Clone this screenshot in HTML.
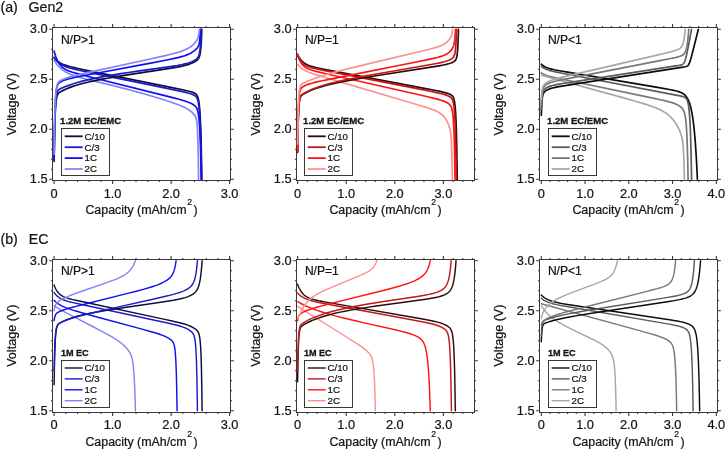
<!DOCTYPE html>
<html><head><meta charset="utf-8"><style>
html,body{margin:0;padding:0;background:#fff;}
svg{display:block;will-change:transform;}
text{font-family:"Liberation Sans", sans-serif;fill:#141414;stroke:#141414;stroke-width:0.22px;}
.t{font-size:12.8px;}
.ax{font-size:12.4px;}
.vx{font-size:12.6px;}
.h{font-size:14.2px;}
.b{font-size:9.4px;font-weight:bold;stroke-width:0.3px;}
.l{font-size:9.7px;}
.np{font-size:12.1px;}
</style></head><body>
<svg width="725" height="449" viewBox="0 0 725 449">
<rect width="725" height="449" fill="#fff"/>
<rect x="52.5" y="27.5" width="178" height="153" fill="none" stroke="#383838" stroke-width="1.0"/>
<path d="M52.5 179.3h-3.4M230.5 179.3h3.4M52.5 169.3h-1.6M230.5 169.3h1.6M52.5 159.3h-1.6M230.5 159.3h1.6M52.5 149.3h-1.6M230.5 149.3h1.6M52.5 139.3h-1.6M230.5 139.3h1.6M52.5 129.3h-3.4M230.5 129.3h3.4M52.5 119.3h-1.6M230.5 119.3h1.6M52.5 109.3h-1.6M230.5 109.3h1.6M52.5 99.3h-1.6M230.5 99.3h1.6M52.5 89.3h-1.6M230.5 89.3h1.6M52.5 79.3h-3.4M230.5 79.3h3.4M52.5 69.3h-1.6M230.5 69.3h1.6M52.5 59.3h-1.6M230.5 59.3h1.6M52.5 49.3h-1.6M230.5 49.3h1.6M52.5 39.3h-1.6M230.5 39.3h1.6M52.5 29.3h-3.4M230.5 29.3h3.4M54.1 180.5v3.4M54.1 27.5v-3.4M65.8 180.5v1.6M65.8 27.5v-1.6M77.5 180.5v1.6M77.5 27.5v-1.6M89.2 180.5v1.6M89.2 27.5v-1.6M100.9 180.5v1.6M100.9 27.5v-1.6M112.6 180.5v3.4M112.6 27.5v-3.4M124.3 180.5v1.6M124.3 27.5v-1.6M136 180.5v1.6M136 27.5v-1.6M147.7 180.5v1.6M147.7 27.5v-1.6M159.4 180.5v1.6M159.4 27.5v-1.6M171.1 180.5v3.4M171.1 27.5v-3.4M182.8 180.5v1.6M182.8 27.5v-1.6M194.5 180.5v1.6M194.5 27.5v-1.6M206.2 180.5v1.6M206.2 27.5v-1.6M217.9 180.5v1.6M217.9 27.5v-1.6M229.6 180.5v3.4M229.6 27.5v-3.4" stroke="#383838" stroke-width="1.1" fill="none"/>
<text x="47.6" y="183.2" text-anchor="end" class="t">1.5</text>
<text x="47.6" y="133.2" text-anchor="end" class="t">2.0</text>
<text x="47.6" y="83.2" text-anchor="end" class="t">2.5</text>
<text x="47.6" y="33.2" text-anchor="end" class="t">3.0</text>
<text x="54.1" y="197.6" text-anchor="middle" class="t">0</text>
<text x="112.6" y="197.6" text-anchor="middle" class="t">1.0</text>
<text x="171.1" y="197.6" text-anchor="middle" class="t">2.0</text>
<text x="229.6" y="197.6" text-anchor="middle" class="t">3.0</text>
<text x="141.5" y="214" text-anchor="middle" class="t ax">Capacity (mAh/cm<tspan dx="0.6" dy="-8.6" font-size="8.6">2</tspan><tspan dx="1.4" dy="8.6">)</tspan></text>
<text transform="translate(15.7 104.3) rotate(-90)" text-anchor="middle" class="t vx">Voltage (V)</text>
<text x="60.9" y="43.7" class="np">N/P&gt;1</text>
<path d="M54.1 57.8 55.44 59.3 56.23 60.06 57.03 60.75 57.95 61.47 58.77 62.04 59.67 62.61 60.64 63.16 61.69 63.69 62.81 64.2 65.28 65.17 68.03 66.05 71.44 66.99 74.32 67.69 77.85 68.49 87.64 70.55 169.55 87.09 182.64 89.79 187.89 90.99 189.9 91.51 191.86 92.08 193.3 92.58 194.24 92.98 195.16 93.5 195.62 93.82 196.07 94.21 196.52 94.71 196.97 95.34 197.41 96.16 197.85 97.27 198.28 98.76 198.71 100.81 199.14 103.65 199.56 107.58 199.98 113.05 200.4 120.69 200.81 131.35 201.22 146.2 201.62 166.88 201.8 179.3" fill="none" stroke="#0e0e3a" stroke-width="1.7" stroke-linejoin="round" stroke-linecap="round"/>
<path d="M54.1 57.3 54.83 58.39 55.56 59.37 56.38 60.35 57.2 61.22 58.14 62.12 58.98 62.82 59.89 63.52 60.88 64.18 62.8 65.28 63.99 65.85 65.26 66.4 68 67.41 71.41 68.44 74.29 69.19 77.8 70.02 87.58 72.14 169.34 88.94 182.41 91.7 187.65 92.95 189.66 93.51 191.13 93.96 192.58 94.48 193.52 94.89 194.45 95.38 195.37 96.03 195.82 96.45 196.27 96.98 196.71 97.64 197.16 98.5 197.59 99.64 198.03 101.17 198.46 103.26 198.88 106.13 199.31 110.08 199.73 115.58 200.14 123.21 200.55 133.83 200.96 148.61 201.36 169.14 201.5 179.3" fill="none" stroke="#1c1cc8" stroke-width="1.7" stroke-linejoin="round" stroke-linecap="round"/>
<path d="M54.1 51 54.67 53.09 55.33 55.22 55.94 57 56.69 58.86 57.37 60.36 58.13 61.82 58.97 63.21 59.88 64.5 60.87 65.69 61.66 66.51 62.78 67.51 63.98 68.4 65.24 69.21 66.57 69.93 67.98 70.59 69.45 71.19 71.78 72.02 74.68 72.93 78.22 73.92 82.96 75.17 95.08 78.23 163.72 95.37 172.66 97.64 178.91 99.3 182.18 100.24 184.84 101.05 186.9 101.75 188.92 102.5 190.89 103.34 192.33 104.06 193.74 104.91 194.66 105.61 195.57 106.5 196.02 107.08 196.46 107.78 196.9 108.66 197.34 109.78 197.77 111.26 198.2 113.23 198.63 115.88 199.05 119.51 199.47 124.48 199.88 131.34 200.29 140.83 200.7 153.98 201.1 172.18 201.21 179.3" fill="none" stroke="#1010f4" stroke-width="1.7" stroke-linejoin="round" stroke-linecap="round"/>
<path d="M54.1 60.3 54.91 61.58 55.78 62.86 56.65 64.01 57.68 65.28 58.68 66.38 59.56 67.27 60.76 68.38 61.81 69.26 62.93 70.11 64.12 70.93 65.38 71.72 66.71 72.47 68.11 73.19 69.57 73.87 71.1 74.52 72.69 75.14 75.2 76.02 77.83 76.85 80.59 77.65 83.97 78.55 89.58 79.95 104.71 83.56 113.13 85.62 121.82 87.82 130.04 89.98 137.67 92.07 144.65 94.05 152.18 96.25 158.95 98.3 166.13 100.56 171.91 102.46 176.91 104.24 180.66 105.7 183.77 107.07 185.28 107.81 186.77 108.62 188.22 109.49 189.18 110.12 191.05 111.52 192.41 112.72 193.75 114.11 194.62 115.2 195.05 115.85 195.48 116.64 195.9 117.65 196.32 119.07 196.73 121.24 197.14 124.78 197.55 130.85 197.96 141.57 198.35 160.79 198.57 179.3" fill="none" stroke="#8484f4" stroke-width="1.7" stroke-linejoin="round" stroke-linecap="round"/>
<path d="M54.1 161.3 54.41 141.68 54.75 126.51 55.12 115.63 55.33 111.05 55.56 107.14 55.82 103.87 56.09 101.21 56.38 99.09 56.86 96.75 57.2 95.62 57.38 95.16 57.75 94.39 58.35 93.53 58.99 92.89 59.67 92.36 60.64 91.74 61.96 91.01 63.7 90.14 65.61 89.26 67.31 88.52 69.5 87.64 71.44 86.91 75.61 85.5 79.69 84.28 84.56 82.98 89.75 81.75 95.23 80.57 100.96 79.44 107.52 78.24 114.93 76.96 132.19 74.17 166.55 68.85 172.5 67.88 177.11 67.07 182.1 66.07 185.82 65.17 187.89 64.58 189.4 64.09 190.89 63.54 192.34 62.93 193.77 62.25 195.16 61.47 196.52 60.55 197.41 59.8 197.85 59.34 198.28 58.8 198.71 58.13 199.14 57.26 199.56 56.08 199.98 54.42 200.4 52 200.81 48.4 201.22 42.95 201.62 34.65 201.79 29.3" fill="none" stroke="#0e0e3a" stroke-width="1.7" stroke-linejoin="round" stroke-linecap="round"/>
<path d="M54.1 159.3 54.41 139.23 54.75 123.7 55.11 112.57 55.33 107.89 55.56 103.89 55.81 100.56 56.08 97.86 56.38 95.72 56.69 94.05 57.02 92.77 57.19 92.24 57.55 91.39 57.74 91.04 58.13 90.47 58.75 89.82 59.42 89.33 60.37 88.78 61.66 88.15 63.37 87.41 65.57 86.52 67.98 85.6 72.59 84.01 77.31 82.55 82.47 81.14 87.52 79.9 93.42 78.59 99.64 77.34 106.13 76.13 113.47 74.88 121.01 73.67 128.69 72.49 137.73 71.17 168.54 66.84 173.24 66.13 177.23 65.48 182.18 64.55 185.88 63.69 187.41 63.27 188.92 62.8 190.4 62.28 191.85 61.69 193.27 61.03 194.66 60.27 196.02 59.37 196.9 58.62 197.34 58.17 197.77 57.63 198.2 56.95 198.63 56.07 199.05 54.87 199.47 53.16 199.88 50.68 200.29 46.98 200.7 41.4 201.1 32.87 201.21 29.3" fill="none" stroke="#1c1cc8" stroke-width="1.7" stroke-linejoin="round" stroke-linecap="round"/>
<path d="M54.1 157.3 54.41 136.3 54.75 119.98 55.01 110.95 55.21 105.64 55.43 101 55.67 97.07 55.93 93.82 56.22 91.19 56.52 89.1 56.84 87.46 57.17 86.19 57.35 85.66 57.72 84.79 58.31 83.82 58.73 83.32 59.16 82.9 60.09 82.21 61.36 81.5 63.03 80.74 64.86 80.05 66.85 79.4 68.99 78.8 71.68 78.12 74.57 77.47 80.41 76.27 88.38 74.73 151.98 62.85 167.94 59.79 174.32 58.45 178.79 57.4 182.57 56.37 184.66 55.7 186.2 55.16 188.21 54.34 190.16 53.41 192.06 52.32 193.46 51.39 194.37 50.7 195.26 49.95 196.58 48.69 197.43 47.69 197.86 47.1 198.28 46.37 198.69 45.4 199.11 43.97 199.51 41.65 199.92 37.58 200.34 29.3" fill="none" stroke="#1010f4" stroke-width="1.7" stroke-linejoin="round" stroke-linecap="round"/>
<path d="M54.1 154.3 54.4 133.94 54.74 118.08 55.01 109.28 55.21 104.1 55.43 99.57 55.67 95.72 55.92 92.53 56.2 89.94 56.5 87.87 56.99 85.57 57.33 84.46 57.89 83.22 58.49 82.33 58.92 81.86 59.36 81.46 60.3 80.78 61.58 80.05 63.27 79.25 65.12 78.5 67.13 77.8 69.28 77.13 71.99 76.37 74.88 75.62 80.27 74.34 88.72 72.44 148.94 59.24 164.36 55.8 170.82 54.26 175.36 53.08 179.21 51.96 182.4 50.87 184.47 50.06 186.49 49.14 188.47 48.1 189.91 47.21 191.33 46.21 192.71 45.09 194.06 43.81 195.38 42.32 196.24 41.15 196.67 40.48 197.09 39.72 197.5 38.82 197.92 37.74 198.33 36.38 198.73 34.58 199.14 32.13 199.46 29.3" fill="none" stroke="#8484f4" stroke-width="1.7" stroke-linejoin="round" stroke-linecap="round"/>
<text x="60.1" y="123.8" class="b" textLength="61.0" lengthAdjust="spacingAndGlyphs">1.2M EC/EMC</text>
<rect x="61.5" y="128.5" width="48" height="47" fill="#fff" stroke="#383838" stroke-width="1.0"/>
<line x1="64.7" x2="82.7" y1="136.3" y2="136.3" stroke="#0e0e3a" stroke-width="1.8"/>
<text x="84.5" y="139.65" class="l">C/10</text>
<line x1="64.7" x2="82.7" y1="147.2" y2="147.2" stroke="#1c1cc8" stroke-width="1.8"/>
<text x="84.5" y="150.55" class="l">C/3</text>
<line x1="64.7" x2="82.7" y1="158.1" y2="158.1" stroke="#1010f4" stroke-width="1.8"/>
<text x="84.5" y="161.45" class="l">1C</text>
<line x1="64.7" x2="82.7" y1="169" y2="169" stroke="#8484f4" stroke-width="1.8"/>
<text x="84.5" y="172.35" class="l">2C</text>
<rect x="296.5" y="27.5" width="178" height="153" fill="none" stroke="#383838" stroke-width="1.0"/>
<path d="M296.5 179.3h-3.4M474.5 179.3h3.4M296.5 169.3h-1.6M474.5 169.3h1.6M296.5 159.3h-1.6M474.5 159.3h1.6M296.5 149.3h-1.6M474.5 149.3h1.6M296.5 139.3h-1.6M474.5 139.3h1.6M296.5 129.3h-3.4M474.5 129.3h3.4M296.5 119.3h-1.6M474.5 119.3h1.6M296.5 109.3h-1.6M474.5 109.3h1.6M296.5 99.3h-1.6M474.5 99.3h1.6M296.5 89.3h-1.6M474.5 89.3h1.6M296.5 79.3h-3.4M474.5 79.3h3.4M296.5 69.3h-1.6M474.5 69.3h1.6M296.5 59.3h-1.6M474.5 59.3h1.6M296.5 49.3h-1.6M474.5 49.3h1.6M296.5 39.3h-1.6M474.5 39.3h1.6M296.5 29.3h-3.4M474.5 29.3h3.4M297.6 180.5v3.4M297.6 27.5v-3.4M307.32 180.5v1.6M307.32 27.5v-1.6M317.04 180.5v1.6M317.04 27.5v-1.6M326.76 180.5v1.6M326.76 27.5v-1.6M336.48 180.5v1.6M336.48 27.5v-1.6M346.2 180.5v3.4M346.2 27.5v-3.4M355.92 180.5v1.6M355.92 27.5v-1.6M365.64 180.5v1.6M365.64 27.5v-1.6M375.36 180.5v1.6M375.36 27.5v-1.6M385.08 180.5v1.6M385.08 27.5v-1.6M394.8 180.5v3.4M394.8 27.5v-3.4M404.52 180.5v1.6M404.52 27.5v-1.6M414.24 180.5v1.6M414.24 27.5v-1.6M423.96 180.5v1.6M423.96 27.5v-1.6M433.68 180.5v1.6M433.68 27.5v-1.6M443.4 180.5v3.4M443.4 27.5v-3.4M453.12 180.5v1.6M453.12 27.5v-1.6M462.84 180.5v1.6M462.84 27.5v-1.6M472.56 180.5v1.6M472.56 27.5v-1.6" stroke="#383838" stroke-width="1.1" fill="none"/>
<text x="291.6" y="183.2" text-anchor="end" class="t">1.5</text>
<text x="291.6" y="133.2" text-anchor="end" class="t">2.0</text>
<text x="291.6" y="83.2" text-anchor="end" class="t">2.5</text>
<text x="291.6" y="33.2" text-anchor="end" class="t">3.0</text>
<text x="297.6" y="197.6" text-anchor="middle" class="t">0</text>
<text x="346.2" y="197.6" text-anchor="middle" class="t">1.0</text>
<text x="394.8" y="197.6" text-anchor="middle" class="t">2.0</text>
<text x="443.4" y="197.6" text-anchor="middle" class="t">3.0</text>
<text x="385.5" y="214" text-anchor="middle" class="t ax">Capacity (mAh/cm<tspan dx="0.6" dy="-8.6" font-size="8.6">2</tspan><tspan dx="1.4" dy="8.6">)</tspan></text>
<text transform="translate(259.7 104.3) rotate(-90)" text-anchor="middle" class="t vx">Voltage (V)</text>
<text x="304.9" y="43.7" class="np">N/P=1</text>
<path d="M297.6 54.3 298.2 55.58 298.78 56.68 299.41 57.75 300.17 58.89 300.87 59.82 301.65 60.73 302.52 61.6 303.47 62.42 304.5 63.19 305.32 63.72 306.48 64.37 307.73 64.97 309.04 65.52 310.44 66.02 313.44 66.91 315.88 67.53 318.92 68.21 328.14 70.06 423.04 88.05 437.02 90.77 440.25 91.45 442.84 92.05 444.85 92.56 446.8 93.13 448.69 93.77 450.06 94.35 450.96 94.82 451.84 95.44 452.27 95.85 452.7 96.36 453.13 97.03 453.55 97.93 453.97 99.17 454.38 100.91 454.79 103.41 455.19 107.01 455.59 112.26 455.99 119.92 456.38 131.11 456.77 147.45 457.15 171.26 457.24 179.3" fill="none" stroke="#2e0a0a" stroke-width="1.7" stroke-linejoin="round" stroke-linecap="round"/>
<path d="M297.6 55.3 298.12 56.66 298.67 57.91 299.26 59.11 299.84 60.11 300.49 61.11 301.04 61.84 301.84 62.77 302.49 63.42 303.19 64.02 304.19 64.75 305 65.25 306.14 65.86 307.04 66.26 308.32 66.76 309.66 67.21 311.09 67.62 313.35 68.21 315.78 68.76 323.46 70.34 421.11 89.45 430.07 91.22 435.7 92.38 438.92 93.09 441.52 93.72 443.53 94.26 445.49 94.86 446.91 95.36 448.3 95.94 449.66 96.65 450.54 97.25 450.98 97.63 451.41 98.08 451.84 98.65 452.26 99.39 452.68 100.37 453.1 101.72 453.51 103.61 453.91 106.28 454.31 110.14 454.71 115.71 455.11 123.82 455.49 135.61 455.88 152.78 456.28 179.3" fill="none" stroke="#c01818" stroke-width="1.7" stroke-linejoin="round" stroke-linecap="round"/>
<path d="M297.6 54.3 298.12 56.04 298.66 57.64 299.25 59.18 299.82 60.46 300.47 61.74 301.21 62.97 302.02 64.13 302.69 64.94 303.39 65.68 304.41 66.58 305.22 67.19 306.37 67.92 307.28 68.42 308.57 69.01 309.93 69.54 311.36 70.04 313.63 70.72 316.07 71.37 323.76 73.21 419.02 94.79 427.41 96.71 433.09 98.05 436.35 98.87 438.97 99.59 441.01 100.2 443 100.88 444.92 101.64 446.33 102.3 447.7 103.07 448.59 103.68 449.47 104.42 449.9 104.88 450.33 105.42 450.76 106.08 451.18 106.91 451.59 107.99 452 109.45 452.41 111.44 452.82 114.24 453.22 118.19 453.61 123.86 454 132.03 454.39 143.82 454.77 160.87 455.05 179.3" fill="none" stroke="#ff1414" stroke-width="1.7" stroke-linejoin="round" stroke-linecap="round"/>
<path d="M297.6 64.4 298.75 65.79 300.1 67.14 301.54 68.34 302.38 68.94 303.3 69.53 305.1 70.54 307.13 71.5 309.39 72.43 312.24 73.46 317.46 75.16 325.78 77.68 411.6 102.95 420.14 105.49 425.39 107.09 428.22 108 430.98 108.94 433.13 109.74 434.71 110.38 436.27 111.07 437.79 111.84 439.28 112.7 440.74 113.7 441.7 114.46 442.64 115.3 444.02 116.77 444.92 117.91 445.37 118.54 446.25 119.92 446.68 120.68 447.54 122.37 447.96 123.3 448.79 125.41 449.2 126.62 449.61 128 450.01 129.62 450.4 131.65 450.8 134.39 451.19 138.44 451.57 144.87 451.95 155.72 452.33 174.79 452.38 179.3" fill="none" stroke="#ff9090" stroke-width="1.7" stroke-linejoin="round" stroke-linecap="round"/>
<path d="M297.6 152.3 297.87 135.24 298.13 123.81 298.48 113.64 298.68 109.48 298.91 106.02 299.15 103.24 299.42 101.06 299.71 99.4 300.02 98.15 300.36 97.22 300.53 96.84 300.89 96.22 301.48 95.52 302.11 94.98 303.02 94.36 304.54 93.47 306.55 92.42 308.45 91.5 310.53 90.57 312.38 89.79 316.43 88.28 320.91 86.82 325.78 85.43 331.01 84.1 336.59 82.85 342.46 81.64 349.22 80.35 356.91 78.98 365.52 77.52 383.95 74.53 429.38 67.39 439.09 65.8 443.34 65.01 446.37 64.34 449.27 63.55 450.67 63.09 451.58 62.73 452.91 62.13 453.78 61.65 454.64 61.05 455.06 60.66 455.47 60.17 455.89 59.51 456.29 58.57 456.7 57.16 457.09 54.97 457.49 51.48 457.88 45.8 458.26 36.51 458.44 29.3" fill="none" stroke="#2e0a0a" stroke-width="1.7" stroke-linejoin="round" stroke-linecap="round"/>
<path d="M297.6 151.3 297.87 134.61 298.12 123.38 298.47 113.34 298.67 109.21 298.89 105.77 299.14 103 299.4 100.81 299.69 99.14 300 97.88 300.33 96.93 300.5 96.54 300.86 95.91 301.44 95.2 302.06 94.64 302.96 94 304.47 93.1 306.45 92.02 308.33 91.07 310.38 90.11 312.22 89.31 316.22 87.73 320.65 86.2 325.46 84.73 330.64 83.32 336.15 81.97 341.96 80.67 348.65 79.27 356.25 77.78 364.76 76.18 382.31 73.03 426.74 65.27 436.44 63.51 440.69 62.64 444.23 61.78 446.65 61.05 448.05 60.55 448.97 60.17 450.32 59.53 451.63 58.76 452.48 58.12 452.9 57.74 453.31 57.28 453.72 56.71 454.13 55.94 454.53 54.87 454.93 53.28 455.33 50.83 455.72 46.97 456.1 40.76 456.51 29.3" fill="none" stroke="#c01818" stroke-width="1.7" stroke-linejoin="round" stroke-linecap="round"/>
<path d="M297.6 149.3 297.87 131.32 298.2 116.25 298.56 105.9 298.77 101.74 299 98.31 299.26 95.56 299.53 93.41 299.83 91.76 300.14 90.5 300.48 89.55 301.03 88.51 301.62 87.76 302.47 87 303.41 86.38 304.69 85.68 306.1 85.05 307.95 84.35 309.61 83.81 311.76 83.2 314.08 82.61 316.97 81.95 322.39 80.79 330.46 79.15 413.72 62.52 427.78 59.68 433.47 58.45 437.27 57.54 440.4 56.67 442.92 55.8 444.86 54.98 446.28 54.24 447.67 53.38 449.02 52.35 450.33 51.1 451.19 50.12 452.03 48.96 452.44 48.29 452.85 47.51 453.25 46.6 453.65 45.47 454.05 44.01 454.44 42.02 454.83 39.18 455.21 34.94 455.54 29.3" fill="none" stroke="#ff1414" stroke-width="1.7" stroke-linejoin="round" stroke-linecap="round"/>
<path d="M297.6 144.3 297.86 126.71 298.11 114.8 298.45 104.07 298.64 99.64 298.86 95.93 299.1 92.92 299.36 90.55 299.64 88.74 299.94 87.38 300.26 86.36 300.43 85.96 300.78 85.3 301.35 84.59 301.96 84.06 302.84 83.49 303.8 82.96 306.84 81.5 310.45 79.95 314.19 78.5 317.92 77.18 322.44 75.71 327.33 74.25 332.56 72.77 338.1 71.29 343.91 69.79 358.75 66.12 378.41 61.4 419.12 51.74 427.29 49.76 431.17 48.77 434.39 47.9 436.98 47.12 438.99 46.44 440.46 45.88 441.9 45.26 443.31 44.55 444.68 43.75 446.02 42.81 446.89 42.1 448.17 40.87 449.01 39.9 449.82 38.78 450.23 38.13 450.62 37.39 451.02 36.54 451.41 35.5 451.79 34.18 452.17 32.43 452.55 29.99 452.62 29.3" fill="none" stroke="#ff9090" stroke-width="1.7" stroke-linejoin="round" stroke-linecap="round"/>
<text x="303.1" y="123.8" class="b" textLength="61.0" lengthAdjust="spacingAndGlyphs">1.2M EC/EMC</text>
<rect x="304.5" y="128.5" width="48" height="47" fill="#fff" stroke="#383838" stroke-width="1.0"/>
<line x1="307.7" x2="325.7" y1="136.3" y2="136.3" stroke="#2e0a0a" stroke-width="1.8"/>
<text x="327.5" y="139.65" class="l">C/10</text>
<line x1="307.7" x2="325.7" y1="147.2" y2="147.2" stroke="#c01818" stroke-width="1.8"/>
<text x="327.5" y="150.55" class="l">C/3</text>
<line x1="307.7" x2="325.7" y1="158.1" y2="158.1" stroke="#ff1414" stroke-width="1.8"/>
<text x="327.5" y="161.45" class="l">1C</text>
<line x1="307.7" x2="325.7" y1="169" y2="169" stroke="#ff9090" stroke-width="1.8"/>
<text x="327.5" y="172.35" class="l">2C</text>
<rect x="539.5" y="27.5" width="178" height="153" fill="none" stroke="#383838" stroke-width="1.0"/>
<path d="M539.5 179.3h-3.4M717.5 179.3h3.4M539.5 169.3h-1.6M717.5 169.3h1.6M539.5 159.3h-1.6M717.5 159.3h1.6M539.5 149.3h-1.6M717.5 149.3h1.6M539.5 139.3h-1.6M717.5 139.3h1.6M539.5 129.3h-3.4M717.5 129.3h3.4M539.5 119.3h-1.6M717.5 119.3h1.6M539.5 109.3h-1.6M717.5 109.3h1.6M539.5 99.3h-1.6M717.5 99.3h1.6M539.5 89.3h-1.6M717.5 89.3h1.6M539.5 79.3h-3.4M717.5 79.3h3.4M539.5 69.3h-1.6M717.5 69.3h1.6M539.5 59.3h-1.6M717.5 59.3h1.6M539.5 49.3h-1.6M717.5 49.3h1.6M539.5 39.3h-1.6M717.5 39.3h1.6M539.5 29.3h-3.4M717.5 29.3h3.4M541.3 180.5v3.4M541.3 27.5v-3.4M550.05 180.5v1.6M550.05 27.5v-1.6M558.8 180.5v1.6M558.8 27.5v-1.6M567.55 180.5v1.6M567.55 27.5v-1.6M576.3 180.5v1.6M576.3 27.5v-1.6M585.05 180.5v3.4M585.05 27.5v-3.4M593.8 180.5v1.6M593.8 27.5v-1.6M602.55 180.5v1.6M602.55 27.5v-1.6M611.3 180.5v1.6M611.3 27.5v-1.6M620.05 180.5v1.6M620.05 27.5v-1.6M628.8 180.5v3.4M628.8 27.5v-3.4M637.55 180.5v1.6M637.55 27.5v-1.6M646.3 180.5v1.6M646.3 27.5v-1.6M655.05 180.5v1.6M655.05 27.5v-1.6M663.8 180.5v1.6M663.8 27.5v-1.6M672.55 180.5v3.4M672.55 27.5v-3.4M681.3 180.5v1.6M681.3 27.5v-1.6M690.05 180.5v1.6M690.05 27.5v-1.6M698.8 180.5v1.6M698.8 27.5v-1.6M707.55 180.5v1.6M707.55 27.5v-1.6M716.3 180.5v3.4M716.3 27.5v-3.4" stroke="#383838" stroke-width="1.1" fill="none"/>
<text x="534.6" y="183.2" text-anchor="end" class="t">1.5</text>
<text x="534.6" y="133.2" text-anchor="end" class="t">2.0</text>
<text x="534.6" y="83.2" text-anchor="end" class="t">2.5</text>
<text x="534.6" y="33.2" text-anchor="end" class="t">3.0</text>
<text x="541.3" y="197.6" text-anchor="middle" class="t">0</text>
<text x="585.05" y="197.6" text-anchor="middle" class="t">1.0</text>
<text x="628.8" y="197.6" text-anchor="middle" class="t">2.0</text>
<text x="672.55" y="197.6" text-anchor="middle" class="t">3.0</text>
<text x="716.3" y="197.6" text-anchor="middle" class="t">4.0</text>
<text x="628.5" y="214" text-anchor="middle" class="t ax">Capacity (mAh/cm<tspan dx="0.6" dy="-8.6" font-size="8.6">2</tspan><tspan dx="1.4" dy="8.6">)</tspan></text>
<text transform="translate(502.7 104.3) rotate(-90)" text-anchor="middle" class="t vx">Voltage (V)</text>
<text x="547.9" y="43.7" class="np">N/P&lt;1</text>
<path d="M541.3 64.2 542.45 65.2 543.64 66.05 544.85 66.75 546.3 67.44 547.74 67.99 549.64 68.6 551.77 69.16 554.47 69.77 559.46 70.73 567.51 72.15 658.91 87.7 670.69 89.77 673.47 90.31 675.65 90.79 677.25 91.2 678.82 91.66 680.36 92.22 681.37 92.66 682.86 93.48 683.83 94.15 684.8 94.97 685.27 95.44 686.21 96.54 686.67 97.18 687.59 98.66 688.05 99.53 688.94 101.55 689.82 104.03 690.68 107.07 691.53 110.79 692.36 115.32 693.17 120.83 693.97 127.5 694.75 135.55 695.14 140.16 695.89 150.72 696.27 156.74 696.99 170.45 697.4 179.3" fill="none" stroke="#0c0c0c" stroke-width="1.7" stroke-linejoin="round" stroke-linecap="round"/>
<path d="M541.3 66.3 542.41 67.18 543.71 68.03 545.1 68.77 546.57 69.41 548.28 70.03 550.21 70.62 552.68 71.26 555.43 71.89 560.88 73.02 569.94 74.79 679.86 95.91 682.12 96.4 683.43 96.75 684.29 97.07 684.71 97.27 685.13 97.51 685.55 97.81 685.96 98.19 686.36 98.68 686.77 99.3 687.17 100.11 687.56 101.18 687.95 102.57 688.34 104.4 688.72 106.8 689.1 109.95 689.48 114.09 689.85 119.49 690.22 126.56 690.58 135.75 690.94 147.69 691.29 163.15 691.57 179.3" fill="none" stroke="#5a5a5a" stroke-width="1.7" stroke-linejoin="round" stroke-linecap="round"/>
<path d="M541.3 72.9 542.39 73.56 543.66 74.22 545.02 74.82 546.69 75.44 548.38 75.98 550.3 76.52 555.48 77.77 568.38 80.53 651.85 97.91 660.32 99.72 665.67 100.94 668.25 101.58 670.75 102.27 672.7 102.87 674.6 103.55 675.98 104.11 677.34 104.75 678.67 105.48 679.96 106.34 681.23 107.37 682.05 108.23 682.46 108.73 682.86 109.3 683.26 109.96 683.65 110.75 684.04 111.69 684.43 112.85 684.81 114.3 685.19 116.15 685.57 118.54 685.94 121.67 686.3 125.79 686.67 131.28 687.03 138.6 687.38 148.4 687.73 161.53 688.08 179.3" fill="none" stroke="#787878" stroke-width="1.7" stroke-linejoin="round" stroke-linecap="round"/>
<path d="M541.3 75.3 621.85 97.42 634.63 101 643.53 103.62 647.57 104.9 651.53 106.24 654.85 107.47 657.55 108.59 660.2 109.81 662.78 111.17 664.8 112.38 666.77 113.73 668.22 114.85 669.64 116.08 671.04 117.43 671.95 118.4 673.3 119.98 674.18 121.12 675.05 122.33 675.9 123.62 677.15 125.73 677.97 127.24 678.78 128.86 679.57 130.59 680.72 133.47 681.47 135.74 681.84 137.1 682.21 138.72 682.57 140.77 682.93 143.55 683.29 147.51 683.64 153.46 683.98 162.68 684.36 179.3" fill="none" stroke="#a8a8a8" stroke-width="1.7" stroke-linejoin="round" stroke-linecap="round"/>
<path d="M541.3 115.3 541.62 107.15 541.97 101.51 542.25 98.7 542.46 97.15 542.69 95.86 543.07 94.37 543.5 93.28 543.98 92.47 544.5 91.83 545.27 91.15 546.34 90.41 547.54 89.76 548.86 89.18 550.3 88.66 552.51 88.01 555.31 87.35 558.79 86.67 563.51 85.85 577.56 83.62 683.03 67.07 685.01 66.73 685.98 66.52 686.94 66.19 687.41 65.93 687.88 65.57 688.34 65.06 688.8 64.36 689.26 63.44 689.71 62.31 690.61 59.55 691.48 56.39 692.77 51.44 698.35 29.3" fill="none" stroke="#0c0c0c" stroke-width="1.7" stroke-linejoin="round" stroke-linecap="round"/>
<path d="M541.3 109.3 541.6 102.73 541.79 99.87 542.03 97.23 542.3 94.98 542.51 93.75 542.75 92.71 543.13 91.49 543.55 90.57 544.03 89.86 544.72 89.1 545.49 88.48 546.57 87.79 547.76 87.17 549.07 86.61 550.49 86.11 552.66 85.49 555.41 84.85 558.82 84.19 562.98 83.48 576.5 81.35 677.33 65.71 679.21 65.4 680.59 65.11 681.49 64.85 682.37 64.45 682.81 64.15 683.24 63.77 683.67 63.26 684.1 62.61 684.52 61.78 684.94 60.76 685.35 59.55 685.76 58.14 686.57 54.88 687.76 49.26 689.28 41.35 691.53 29.3" fill="none" stroke="#5a5a5a" stroke-width="1.7" stroke-linejoin="round" stroke-linecap="round"/>
<path d="M541.3 104.3 541.6 98.5 541.78 95.95 542.01 93.57 542.29 91.53 542.5 90.39 542.84 89.01 543.23 87.95 543.67 87.13 544.31 86.27 545.04 85.58 545.83 84.96 546.94 84.26 548.16 83.62 549.49 83.03 550.93 82.49 553.46 81.71 556.26 80.99 560.13 80.12 565.26 79.07 658.59 60.91 670.79 58.49 675.14 57.56 677.9 56.89 680.1 56.23 680.96 55.92 681.8 55.54 682.63 55.08 683.44 54.48 684.24 53.66 684.63 53.13 685.02 52.49 685.4 51.73 685.78 50.8 686.16 49.67 686.53 48.29 686.9 46.59 687.26 44.51 687.62 41.95 687.98 38.8 688.33 34.93 688.73 29.3" fill="none" stroke="#787878" stroke-width="1.7" stroke-linejoin="round" stroke-linecap="round"/>
<path d="M541.3 99.3 541.65 94.14 541.84 92.16 542.08 90.33 542.37 88.76 542.58 87.88 542.93 86.78 543.33 85.91 543.92 84.99 544.59 84.23 545.34 83.57 546.37 82.81 547.52 82.1 548.77 81.44 550.14 80.83 551.62 80.26 554.19 79.41 557.03 78.6 560.52 77.69 565.62 76.45 654.93 55.6 666.98 52.75 671.3 51.67 674.48 50.78 676.65 50.06 678.33 49.36 679.14 48.91 679.95 48.37 680.73 47.66 681.12 47.23 681.5 46.72 681.88 46.11 682.26 45.4 682.63 44.53 683 43.5 683.36 42.24 683.72 40.72 684.08 38.87 684.43 36.62 684.78 33.87 685.23 29.3" fill="none" stroke="#a8a8a8" stroke-width="1.7" stroke-linejoin="round" stroke-linecap="round"/>
<text x="547.1" y="123.8" class="b" textLength="61.0" lengthAdjust="spacingAndGlyphs">1.2M EC/EMC</text>
<rect x="548.5" y="128.5" width="48" height="47" fill="#fff" stroke="#383838" stroke-width="1.0"/>
<line x1="551.7" x2="569.7" y1="136.3" y2="136.3" stroke="#0c0c0c" stroke-width="1.8"/>
<text x="571.5" y="139.65" class="l">C/10</text>
<line x1="551.7" x2="569.7" y1="147.2" y2="147.2" stroke="#5a5a5a" stroke-width="1.8"/>
<text x="571.5" y="150.55" class="l">C/3</text>
<line x1="551.7" x2="569.7" y1="158.1" y2="158.1" stroke="#787878" stroke-width="1.8"/>
<text x="571.5" y="161.45" class="l">1C</text>
<line x1="551.7" x2="569.7" y1="169" y2="169" stroke="#a8a8a8" stroke-width="1.8"/>
<text x="571.5" y="172.35" class="l">2C</text>
<rect x="52.5" y="259.5" width="178" height="153" fill="none" stroke="#383838" stroke-width="1.0"/>
<path d="M52.5 410.7h-3.4M230.5 410.7h3.4M52.5 400.7h-1.6M230.5 400.7h1.6M52.5 390.7h-1.6M230.5 390.7h1.6M52.5 380.7h-1.6M230.5 380.7h1.6M52.5 370.7h-1.6M230.5 370.7h1.6M52.5 360.7h-3.4M230.5 360.7h3.4M52.5 350.7h-1.6M230.5 350.7h1.6M52.5 340.7h-1.6M230.5 340.7h1.6M52.5 330.7h-1.6M230.5 330.7h1.6M52.5 320.7h-1.6M230.5 320.7h1.6M52.5 310.7h-3.4M230.5 310.7h3.4M52.5 300.7h-1.6M230.5 300.7h1.6M52.5 290.7h-1.6M230.5 290.7h1.6M52.5 280.7h-1.6M230.5 280.7h1.6M52.5 270.7h-1.6M230.5 270.7h1.6M52.5 260.7h-3.4M230.5 260.7h3.4M54.1 412.5v3.4M54.1 259.5v-3.4M65.8 412.5v1.6M65.8 259.5v-1.6M77.5 412.5v1.6M77.5 259.5v-1.6M89.2 412.5v1.6M89.2 259.5v-1.6M100.9 412.5v1.6M100.9 259.5v-1.6M112.6 412.5v3.4M112.6 259.5v-3.4M124.3 412.5v1.6M124.3 259.5v-1.6M136 412.5v1.6M136 259.5v-1.6M147.7 412.5v1.6M147.7 259.5v-1.6M159.4 412.5v1.6M159.4 259.5v-1.6M171.1 412.5v3.4M171.1 259.5v-3.4M182.8 412.5v1.6M182.8 259.5v-1.6M194.5 412.5v1.6M194.5 259.5v-1.6M206.2 412.5v1.6M206.2 259.5v-1.6M217.9 412.5v1.6M217.9 259.5v-1.6M229.6 412.5v3.4M229.6 259.5v-3.4" stroke="#383838" stroke-width="1.1" fill="none"/>
<text x="47.6" y="415.3" text-anchor="end" class="t">1.5</text>
<text x="47.6" y="365.3" text-anchor="end" class="t">2.0</text>
<text x="47.6" y="315.3" text-anchor="end" class="t">2.5</text>
<text x="47.6" y="265.3" text-anchor="end" class="t">3.0</text>
<text x="54.1" y="429.3" text-anchor="middle" class="t">0</text>
<text x="112.6" y="429.3" text-anchor="middle" class="t">1.0</text>
<text x="171.1" y="429.3" text-anchor="middle" class="t">2.0</text>
<text x="229.6" y="429.3" text-anchor="middle" class="t">3.0</text>
<text x="141.5" y="445.7" text-anchor="middle" class="t ax">Capacity (mAh/cm<tspan dx="0.6" dy="-8.6" font-size="8.6">2</tspan><tspan dx="1.4" dy="8.6">)</tspan></text>
<text transform="translate(15.7 335.7) rotate(-90)" text-anchor="middle" class="t vx">Voltage (V)</text>
<text x="60.9" y="275.4" class="np">N/P&gt;1</text>
<path d="M54.1 284.9 54.6 286.25 55.12 287.5 55.69 288.72 56.24 289.75 56.86 290.79 57.57 291.81 58.35 292.79 58.99 293.48 59.91 294.33 60.65 294.92 61.43 295.47 62.54 296.13 63.42 296.58 64.65 297.13 65.96 297.64 67.34 298.1 69.53 298.75 71.87 299.36 79.27 301.06 162.46 318.86 172.12 320.98 178.45 322.45 181.78 323.29 184.47 324.05 187.1 324.89 189.14 325.64 191.13 326.51 193.07 327.53 194.48 328.42 195.87 329.47 196.77 330.31 197.22 330.81 197.66 331.38 198.1 332.07 198.54 332.94 198.97 334.1 199.4 335.73 199.82 338.12 200.24 341.75 200.66 347.37 201.07 356.25 201.48 370.37 201.88 392.93 202.08 410.7" fill="none" stroke="#0e0e3a" stroke-width="1.45" stroke-linejoin="round" stroke-linecap="round"/>
<path d="M54.1 292.3 54.66 293.14 55.3 294 55.9 294.73 56.63 295.51 57.29 296.15 58.04 296.78 59.52 297.85 61.23 298.83 63.16 299.71 65.3 300.51 68.01 301.34 70.21 301.94 72.96 302.62 80.4 304.3 158.19 320.95 167.64 323.02 173.84 324.46 177.1 325.29 179.75 326.04 182.33 326.86 184.34 327.6 186.3 328.44 188.2 329.42 189.6 330.29 190.97 331.31 191.86 332.12 192.74 333.16 193.17 333.81 193.6 334.63 194.03 335.69 194.45 337.13 194.87 339.15 195.29 342.08 195.7 346.43 196.11 353 196.52 363.01 196.92 378.36 197.31 401.96 197.41 410.7" fill="none" stroke="#1c1cc8" stroke-width="1.45" stroke-linejoin="round" stroke-linecap="round"/>
<path d="M54.1 300.4 55.56 301.73 57.21 303.03 58.83 304.13 60.79 305.28 62.79 306.3 65.04 307.3 67.52 308.28 70.58 309.37 73.52 310.33 76.67 311.29 85.32 313.77 97.98 317.24 142.9 329.41 150.22 331.44 155.76 333.07 158.69 333.99 161.07 334.81 163.39 335.69 165.21 336.46 166.98 337.32 168.72 338.28 169.99 339.1 171.23 340.07 172.05 340.86 172.45 341.34 172.85 341.89 173.25 342.58 173.65 343.45 174.04 344.59 174.43 346.16 174.81 348.36 175.2 351.51 175.57 356.11 175.95 362.88 176.32 372.93 176.69 387.89 177.07 410.7" fill="none" stroke="#1010f4" stroke-width="1.45" stroke-linejoin="round" stroke-linecap="round"/>
<path d="M54.1 305.7 56.17 307.06 58.64 308.57 61.59 310.26 64.95 312.11 72.63 316.16 93.13 326.75 100.82 330.77 107.41 334.32 112.41 337.17 115.07 338.79 117.32 340.26 119.54 341.83 121.37 343.22 123.16 344.74 124.93 346.4 126.32 347.86 127.69 349.49 128.7 350.87 129.69 352.46 130.35 353.71 130.67 354.42 131.32 356.09 131.96 358.25 132.27 359.6 132.59 361.2 132.9 363.11 133.21 365.43 133.52 368.27 133.83 371.76 134.14 376.1 134.44 381.51 134.74 388.29 135.04 396.82 135.41 410.7" fill="none" stroke="#8484f4" stroke-width="1.45" stroke-linejoin="round" stroke-linecap="round"/>
<path d="M54.1 384.7 54.41 367.26 54.75 353.78 55.12 344.1 55.33 340.03 55.57 336.54 55.82 333.62 56.09 331.24 56.39 329.34 56.86 327.23 57.21 326.21 57.76 325.07 58.35 324.26 58.99 323.65 59.68 323.14 60.65 322.53 61.98 321.81 63.42 321.11 66.64 319.7 70.29 318.32 73.93 317.14 77.89 316.01 82.14 314.95 86.66 313.94 91.43 312.98 97 311.95 102.81 310.94 110.06 309.76 126.5 307.24 162.46 301.92 168.56 300.97 173.29 300.19 178.45 299.22 180.68 298.74 182.87 298.22 185.01 297.63 186.58 297.13 188.12 296.58 189.64 295.95 190.64 295.49 191.62 294.97 193.07 294.06 194.01 293.35 194.48 292.95 195.41 292.03 196.32 290.9 196.77 290.23 197.22 289.47 197.66 288.6 198.1 287.59 198.54 286.42 198.97 285.04 199.4 283.4 199.82 281.46 200.24 279.13 200.66 276.33 201.07 272.95 201.48 268.86 201.88 263.88 202.09 260.7" fill="none" stroke="#0e0e3a" stroke-width="1.45" stroke-linejoin="round" stroke-linecap="round"/>
<path d="M54.1 370.7 54.4 357.62 54.73 347.39 55.09 339.97 55.3 336.81 55.52 334.08 55.77 331.79 56.04 329.9 56.32 328.38 56.63 327.17 56.95 326.21 57.47 325.15 58.04 324.4 58.64 323.83 59.07 323.52 59.75 323.1 61.76 322.11 64.36 321 67.31 319.88 70.21 318.88 73.78 317.76 77.21 316.76 81.34 315.63 89.85 313.49 101.44 310.77 116.37 307.39 155.15 298.72 167.64 295.83 173.29 294.39 177.64 293.15 179.75 292.47 181.3 291.92 182.83 291.34 184.34 290.7 186.3 289.74 187.73 288.92 189.14 287.95 190.06 287.2 190.97 286.33 191.86 285.28 192.74 283.97 193.17 283.18 193.6 282.28 194.03 281.24 194.45 280.03 194.87 278.6 195.29 276.92 195.7 274.92 196.11 272.53 196.52 269.66 196.92 266.2 197.42 260.7" fill="none" stroke="#1c1cc8" stroke-width="1.45" stroke-linejoin="round" stroke-linecap="round"/>
<path d="M54.1 320.7 54.52 318.1 54.96 316.33 55.24 315.54 55.55 314.83 55.9 314.23 56.29 313.71 56.72 313.27 57.18 312.88 57.86 312.43 58.6 312.01 59.62 311.51 60.74 311.02 63.54 309.96 66.16 309.09 69.08 308.22 72.63 307.23 76.91 306.11 86.48 303.69 127.69 293.42 136.39 291.19 143.32 289.35 149.54 287.56 152.07 286.77 154.55 285.94 156.99 285.06 158.9 284.31 160.78 283.51 162.62 282.64 164.42 281.69 165.75 280.91 167.05 280.06 168.33 279.12 169.58 278.04 170.4 277.2 171.22 276.25 172.01 275.11 172.8 273.72 173.19 272.9 173.58 271.97 173.96 270.9 174.34 269.68 174.72 268.27 175.09 266.63 175.46 264.7 175.83 262.45 176.07 260.7" fill="none" stroke="#1010f4" stroke-width="1.45" stroke-linejoin="round" stroke-linecap="round"/>
<path d="M54.1 310.7 54.54 308.22 54.77 307.26 55.05 306.32 55.38 305.45 55.65 304.86 56.06 304.14 56.52 303.5 57.02 302.91 57.72 302.24 58.48 301.6 59.31 300.98 60.21 300.37 61.38 299.65 63.77 298.35 65.94 297.31 68.58 296.17 71.43 295.03 75.11 293.66 83.19 290.79 105.47 283.09 110.11 281.44 113.56 280.16 116.95 278.82 119.54 277.69 121.73 276.62 123.87 275.42 124.93 274.75 125.97 274.02 127.69 272.64 128.7 271.7 129.36 271.01 130.67 269.47 131.96 267.67 132.59 266.65 133.21 265.55 133.83 264.35 134.44 263.06 135.41 260.7" fill="none" stroke="#8484f4" stroke-width="1.45" stroke-linejoin="round" stroke-linecap="round"/>
<text x="60.9" y="355.5" class="b" textLength="27.8" lengthAdjust="spacingAndGlyphs">1M EC</text>
<rect x="61.5" y="360.5" width="48" height="47" fill="#fff" stroke="#383838" stroke-width="1.0"/>
<line x1="64.7" x2="82.7" y1="368" y2="368" stroke="#0e0e3a" stroke-width="1.4"/>
<text x="84.5" y="371.35" class="l">C/10</text>
<line x1="64.7" x2="82.7" y1="378.9" y2="378.9" stroke="#1c1cc8" stroke-width="1.4"/>
<text x="84.5" y="382.25" class="l">C/3</text>
<line x1="64.7" x2="82.7" y1="389.8" y2="389.8" stroke="#1010f4" stroke-width="1.4"/>
<text x="84.5" y="393.15" class="l">1C</text>
<line x1="64.7" x2="82.7" y1="400.7" y2="400.7" stroke="#8484f4" stroke-width="1.4"/>
<text x="84.5" y="404.05" class="l">2C</text>
<rect x="296.5" y="259.5" width="178" height="153" fill="none" stroke="#383838" stroke-width="1.0"/>
<path d="M296.5 410.7h-3.4M474.5 410.7h3.4M296.5 400.7h-1.6M474.5 400.7h1.6M296.5 390.7h-1.6M474.5 390.7h1.6M296.5 380.7h-1.6M474.5 380.7h1.6M296.5 370.7h-1.6M474.5 370.7h1.6M296.5 360.7h-3.4M474.5 360.7h3.4M296.5 350.7h-1.6M474.5 350.7h1.6M296.5 340.7h-1.6M474.5 340.7h1.6M296.5 330.7h-1.6M474.5 330.7h1.6M296.5 320.7h-1.6M474.5 320.7h1.6M296.5 310.7h-3.4M474.5 310.7h3.4M296.5 300.7h-1.6M474.5 300.7h1.6M296.5 290.7h-1.6M474.5 290.7h1.6M296.5 280.7h-1.6M474.5 280.7h1.6M296.5 270.7h-1.6M474.5 270.7h1.6M296.5 260.7h-3.4M474.5 260.7h3.4M297.6 412.5v3.4M297.6 259.5v-3.4M307.32 412.5v1.6M307.32 259.5v-1.6M317.04 412.5v1.6M317.04 259.5v-1.6M326.76 412.5v1.6M326.76 259.5v-1.6M336.48 412.5v1.6M336.48 259.5v-1.6M346.2 412.5v3.4M346.2 259.5v-3.4M355.92 412.5v1.6M355.92 259.5v-1.6M365.64 412.5v1.6M365.64 259.5v-1.6M375.36 412.5v1.6M375.36 259.5v-1.6M385.08 412.5v1.6M385.08 259.5v-1.6M394.8 412.5v3.4M394.8 259.5v-3.4M404.52 412.5v1.6M404.52 259.5v-1.6M414.24 412.5v1.6M414.24 259.5v-1.6M423.96 412.5v1.6M423.96 259.5v-1.6M433.68 412.5v1.6M433.68 259.5v-1.6M443.4 412.5v3.4M443.4 259.5v-3.4M453.12 412.5v1.6M453.12 259.5v-1.6M462.84 412.5v1.6M462.84 259.5v-1.6M472.56 412.5v1.6M472.56 259.5v-1.6" stroke="#383838" stroke-width="1.1" fill="none"/>
<text x="291.6" y="415.3" text-anchor="end" class="t">1.5</text>
<text x="291.6" y="365.3" text-anchor="end" class="t">2.0</text>
<text x="291.6" y="315.3" text-anchor="end" class="t">2.5</text>
<text x="291.6" y="265.3" text-anchor="end" class="t">3.0</text>
<text x="297.6" y="429.3" text-anchor="middle" class="t">0</text>
<text x="346.2" y="429.3" text-anchor="middle" class="t">1.0</text>
<text x="394.8" y="429.3" text-anchor="middle" class="t">2.0</text>
<text x="443.4" y="429.3" text-anchor="middle" class="t">3.0</text>
<text x="385.5" y="445.7" text-anchor="middle" class="t ax">Capacity (mAh/cm<tspan dx="0.6" dy="-8.6" font-size="8.6">2</tspan><tspan dx="1.4" dy="8.6">)</tspan></text>
<text transform="translate(259.7 335.7) rotate(-90)" text-anchor="middle" class="t vx">Voltage (V)</text>
<text x="304.9" y="275.4" class="np">N/P=1</text>
<path d="M297.6 284.2 298.2 285.81 298.77 287.18 299.39 288.52 300.14 289.94 300.83 291.08 301.61 292.2 302.47 293.27 303.4 294.28 304.42 295.2 305.23 295.83 306.38 296.6 307.61 297.29 308.92 297.91 310.29 298.47 311.74 298.97 313.27 299.42 315.68 300.05 318.68 300.72 322.35 301.45 327.29 302.36 415.46 317.82 425.24 319.58 431.6 320.81 434.92 321.52 437.6 322.17 440.2 322.89 442.22 323.55 444.18 324.32 446.07 325.23 447.46 326.04 448.81 327.02 449.68 327.85 450.12 328.35 450.55 328.94 450.97 329.66 451.39 330.56 451.81 331.74 452.22 333.32 452.63 335.47 453.04 338.49 453.44 342.77 453.83 348.91 454.22 357.75 454.61 370.54 454.99 389.05 455.3 410.7" fill="none" stroke="#2e0a0a" stroke-width="1.45" stroke-linejoin="round" stroke-linecap="round"/>
<path d="M297.6 293 298.97 294.45 299.77 295.18 300.58 295.84 302.14 296.92 304.01 297.99 305.9 298.86 308.34 299.78 310.71 300.53 313.68 301.32 316.5 301.98 319.97 302.72 329.15 304.52 411.56 319.81 420.61 321.53 426.92 322.8 430.21 323.52 433.41 324.3 435.98 325.03 437.98 325.69 439.92 326.45 441.8 327.33 443.18 328.11 444.52 329.03 445.39 329.78 445.83 330.21 446.25 330.71 446.68 331.3 447.1 332.01 447.51 332.9 447.92 334.04 448.33 335.57 448.73 337.64 449.13 340.51 449.53 344.57 449.92 350.34 450.3 358.61 450.69 370.5 451.07 387.63 451.42 410.7" fill="none" stroke="#c01818" stroke-width="1.45" stroke-linejoin="round" stroke-linecap="round"/>
<path d="M297.6 301.7 300.36 303.23 303.43 304.77 306.71 306.29 310.01 307.68 313.41 309.01 317.16 310.37 321.25 311.74 325.65 313.11 330.8 314.61 336.27 316.1 342.52 317.71 349.03 319.31 356.3 321.04 364.3 322.89 395.08 329.81 400.47 331.09 405.17 332.3 407.71 333.01 410.19 333.77 412.61 334.6 414.51 335.34 416.36 336.17 417.71 336.87 419.05 337.69 420.35 338.66 421.21 339.43 421.63 339.87 422.47 340.88 422.88 341.47 423.7 342.88 424.1 343.73 424.5 344.69 424.9 345.8 425.3 347.07 425.69 348.54 426.07 350.25 426.46 352.24 426.84 354.56 427.22 357.28 427.59 360.47 427.96 364.21 428.33 368.61 428.69 373.78 429.05 379.86 429.41 387.01 429.76 395.41 430.27 410.7" fill="none" stroke="#ff1414" stroke-width="1.45" stroke-linejoin="round" stroke-linecap="round"/>
<path d="M297.6 306.3 348.11 338.01 354.55 342.09 358.73 344.8 360.77 346.18 362.77 347.59 364.41 348.82 365.69 349.87 366.96 350.99 367.89 351.9 368.81 352.9 369.72 354.04 370.61 355.42 371.2 356.55 371.78 357.98 372.07 358.86 372.64 361.13 372.92 362.61 373.2 364.42 373.48 366.66 373.76 369.46 374.03 372.97 374.3 377.42 374.57 383.09 374.84 390.32 375.11 399.59 375.36 410.7" fill="none" stroke="#ff9090" stroke-width="1.45" stroke-linejoin="round" stroke-linecap="round"/>
<path d="M297.6 381.7 297.87 365.27 298.12 354.21 298.46 344.31 298.67 340.24 298.89 336.85 299.13 334.1 299.4 331.95 299.68 330.29 299.99 329.05 300.32 328.11 300.49 327.73 300.85 327.11 301.42 326.41 302.05 325.86 303.18 325.08 304.71 324.19 306.72 323.1 308.96 321.98 311.07 321 312.94 320.19 315.34 319.21 317.45 318.41 320.12 317.47 322.46 316.7 327.41 315.22 332.71 313.83 338.91 312.4 344.83 311.17 351.63 309.91 358.67 308.71 367.23 307.36 375.97 306.06 385.47 304.72 420.33 300.02 425.78 299.23 429.89 298.58 434.4 297.76 438.2 296.92 439.77 296.5 441.32 296.04 442.83 295.53 444.31 294.94 445.76 294.25 447.17 293.41 448.09 292.74 448.55 292.35 449.45 291.46 450.33 290.34 450.76 289.67 451.19 288.92 451.62 288.05 452.04 287.04 452.46 285.89 452.88 284.54 453.29 282.96 453.69 281.12 454.09 278.95 454.49 276.4 454.88 273.4 455.27 269.85 455.66 265.65 456.04 260.7" fill="none" stroke="#2e0a0a" stroke-width="1.45" stroke-linejoin="round" stroke-linecap="round"/>
<path d="M297.6 370.7 297.86 357.34 298.18 346.06 298.53 338.23 298.74 335.07 298.97 332.45 299.22 330.34 299.48 328.68 299.77 327.4 300.08 326.42 300.41 325.66 300.94 324.83 301.51 324.21 302.35 323.54 303.75 322.64 305.6 321.56 307.68 320.45 309.65 319.46 311.77 318.46 313.66 317.63 316.06 316.63 318.18 315.81 322.69 314.21 327.58 312.68 332.79 311.23 338.88 309.72 344.69 308.43 351.34 307.07 358.22 305.78 366.57 304.32 374.42 303.02 383.66 301.56 415.67 296.68 420.44 295.91 424.48 295.21 428.94 294.34 432.69 293.48 435.78 292.6 437.28 292.1 438.75 291.54 440.66 290.66 442.06 289.86 443.42 288.88 444.31 288.08 445.18 287.11 446.04 285.91 446.46 285.19 446.88 284.37 447.3 283.44 447.71 282.38 448.11 281.15 448.52 279.72 448.91 278.06 449.31 276.13 449.7 273.88 450.08 271.23 450.47 268.13 450.84 264.48 451.17 260.7" fill="none" stroke="#c01818" stroke-width="1.45" stroke-linejoin="round" stroke-linecap="round"/>
<path d="M297.6 320.7 297.98 318.36 298.26 317.23 298.51 316.45 298.8 315.76 299.13 315.18 299.5 314.68 300.06 314.12 300.69 313.63 301.57 313.06 302.77 312.4 304.12 311.72 306.99 310.49 310.33 309.25 313.41 308.25 316.77 307.25 320.83 306.13 326.1 304.74 337.29 301.92 378.16 291.76 387.29 289.43 394.53 287.51 401 285.68 406.19 284.05 408.71 283.18 410.68 282.44 412.61 281.67 414.51 280.85 416.36 279.96 417.71 279.25 419.49 278.21 420.78 277.35 422.05 276.4 423.29 275.33 424.5 274.08 425.3 273.12 426.07 272.03 426.84 270.77 427.59 269.29 428.33 267.55 429.05 265.46 429.41 264.25 429.76 262.93 430.27 260.7" fill="none" stroke="#ff1414" stroke-width="1.45" stroke-linejoin="round" stroke-linecap="round"/>
<path d="M297.6 318.7 297.77 318.57 297.97 318.34 298.43 317.53 300.63 312.55 302.06 309.61 303.4 307.25 304.9 304.97 305.92 303.61 306.77 302.56 307.67 301.55 308.6 300.58 309.56 299.65 310.56 298.76 311.6 297.9 312.94 296.88 314.04 296.11 315.46 295.17 316.93 294.28 318.44 293.42 321.58 291.77 325.54 289.89 329.66 288.06 334.99 285.8 354.37 277.89 359.69 275.67 362.45 274.46 364.47 273.53 366.12 272.72 367.74 271.84 369.32 270.88 370.86 269.77 372.07 268.72 373.24 267.46 373.82 266.73 374.39 265.91 375.24 264.46 376.06 262.71 376.82 260.7" fill="none" stroke="#ff9090" stroke-width="1.45" stroke-linejoin="round" stroke-linecap="round"/>
<text x="303.9" y="355.5" class="b" textLength="27.8" lengthAdjust="spacingAndGlyphs">1M EC</text>
<rect x="304.5" y="360.5" width="48" height="47" fill="#fff" stroke="#383838" stroke-width="1.0"/>
<line x1="307.7" x2="325.7" y1="368" y2="368" stroke="#2e0a0a" stroke-width="1.4"/>
<text x="327.5" y="371.35" class="l">C/10</text>
<line x1="307.7" x2="325.7" y1="378.9" y2="378.9" stroke="#c01818" stroke-width="1.4"/>
<text x="327.5" y="382.25" class="l">C/3</text>
<line x1="307.7" x2="325.7" y1="389.8" y2="389.8" stroke="#ff1414" stroke-width="1.4"/>
<text x="327.5" y="393.15" class="l">1C</text>
<line x1="307.7" x2="325.7" y1="400.7" y2="400.7" stroke="#ff9090" stroke-width="1.4"/>
<text x="327.5" y="404.05" class="l">2C</text>
<rect x="539.5" y="259.5" width="178" height="153" fill="none" stroke="#383838" stroke-width="1.0"/>
<path d="M539.5 410.7h-3.4M717.5 410.7h3.4M539.5 400.7h-1.6M717.5 400.7h1.6M539.5 390.7h-1.6M717.5 390.7h1.6M539.5 380.7h-1.6M717.5 380.7h1.6M539.5 370.7h-1.6M717.5 370.7h1.6M539.5 360.7h-3.4M717.5 360.7h3.4M539.5 350.7h-1.6M717.5 350.7h1.6M539.5 340.7h-1.6M717.5 340.7h1.6M539.5 330.7h-1.6M717.5 330.7h1.6M539.5 320.7h-1.6M717.5 320.7h1.6M539.5 310.7h-3.4M717.5 310.7h3.4M539.5 300.7h-1.6M717.5 300.7h1.6M539.5 290.7h-1.6M717.5 290.7h1.6M539.5 280.7h-1.6M717.5 280.7h1.6M539.5 270.7h-1.6M717.5 270.7h1.6M539.5 260.7h-3.4M717.5 260.7h3.4M541.3 412.5v3.4M541.3 259.5v-3.4M550.05 412.5v1.6M550.05 259.5v-1.6M558.8 412.5v1.6M558.8 259.5v-1.6M567.55 412.5v1.6M567.55 259.5v-1.6M576.3 412.5v1.6M576.3 259.5v-1.6M585.05 412.5v3.4M585.05 259.5v-3.4M593.8 412.5v1.6M593.8 259.5v-1.6M602.55 412.5v1.6M602.55 259.5v-1.6M611.3 412.5v1.6M611.3 259.5v-1.6M620.05 412.5v1.6M620.05 259.5v-1.6M628.8 412.5v3.4M628.8 259.5v-3.4M637.55 412.5v1.6M637.55 259.5v-1.6M646.3 412.5v1.6M646.3 259.5v-1.6M655.05 412.5v1.6M655.05 259.5v-1.6M663.8 412.5v1.6M663.8 259.5v-1.6M672.55 412.5v3.4M672.55 259.5v-3.4M681.3 412.5v1.6M681.3 259.5v-1.6M690.05 412.5v1.6M690.05 259.5v-1.6M698.8 412.5v1.6M698.8 259.5v-1.6M707.55 412.5v1.6M707.55 259.5v-1.6M716.3 412.5v3.4M716.3 259.5v-3.4" stroke="#383838" stroke-width="1.1" fill="none"/>
<text x="534.6" y="415.3" text-anchor="end" class="t">1.5</text>
<text x="534.6" y="365.3" text-anchor="end" class="t">2.0</text>
<text x="534.6" y="315.3" text-anchor="end" class="t">2.5</text>
<text x="534.6" y="265.3" text-anchor="end" class="t">3.0</text>
<text x="541.3" y="429.3" text-anchor="middle" class="t">0</text>
<text x="585.05" y="429.3" text-anchor="middle" class="t">1.0</text>
<text x="628.8" y="429.3" text-anchor="middle" class="t">2.0</text>
<text x="672.55" y="429.3" text-anchor="middle" class="t">3.0</text>
<text x="716.3" y="429.3" text-anchor="middle" class="t">4.0</text>
<text x="628.5" y="445.7" text-anchor="middle" class="t ax">Capacity (mAh/cm<tspan dx="0.6" dy="-8.6" font-size="8.6">2</tspan><tspan dx="1.4" dy="8.6">)</tspan></text>
<text transform="translate(502.7 335.7) rotate(-90)" text-anchor="middle" class="t vx">Voltage (V)</text>
<text x="547.9" y="275.4" class="np">N/P&lt;1</text>
<path d="M541.3 295.1 542.82 296.48 543.67 297.15 544.52 297.75 545.5 298.37 546.37 298.87 548.35 299.84 550.65 300.74 553.24 301.57 556.13 302.32 559.29 303.01 562.28 303.59 565.94 304.23 576.1 305.84 661.11 318.51 669.54 319.79 675.25 320.72 678.54 321.3 681.19 321.84 683.25 322.32 685.26 322.86 687.21 323.5 688.63 324.07 690.02 324.75 691.37 325.6 692.25 326.31 692.69 326.73 693.55 327.76 693.97 328.4 694.39 329.16 694.81 330.08 695.22 331.19 695.62 332.57 696.03 334.29 696.42 336.46 696.82 339.21 697.21 342.71 697.59 347.21 697.97 353 698.35 360.46 698.72 370.08 699.09 382.49 699.45 398.49 699.66 410.7" fill="none" stroke="#0c0c0c" stroke-width="1.45" stroke-linejoin="round" stroke-linecap="round"/>
<path d="M541.3 298.2 542.64 299.33 544.05 300.31 545.54 301.14 547.33 301.97 549.15 302.65 551.19 303.29 553.79 303.97 556.67 304.62 562.34 305.73 571.2 307.31 658.88 322.36 671.72 324.63 676.83 325.68 678.79 326.15 680.69 326.68 682.54 327.31 683.89 327.87 685.2 328.56 686.06 329.12 686.9 329.82 687.31 330.25 687.72 330.74 688.13 331.33 688.53 332.05 688.93 332.94 689.33 334.06 689.72 335.5 690.1 337.37 690.49 339.84 690.87 343.12 691.24 347.51 691.61 353.43 691.98 361.41 692.34 372.2 692.7 386.8 693.1 410.7" fill="none" stroke="#5a5a5a" stroke-width="1.45" stroke-linejoin="round" stroke-linecap="round"/>
<path d="M541.3 303.7 636.84 329.91 646.66 332.63 652.87 334.41 655.85 335.31 658.74 336.24 661.08 337.07 663.35 337.96 665.11 338.76 666.83 339.66 668.08 340.43 669.3 341.32 670.49 342.4 671.27 343.32 671.66 343.87 672.04 344.51 672.41 345.26 672.79 346.17 673.16 347.29 673.52 348.69 673.89 350.46 674.25 352.74 674.6 355.71 674.95 359.59 675.3 364.71 675.65 371.47 675.99 380.43 676.33 392.32 676.7 410.7" fill="none" stroke="#787878" stroke-width="1.45" stroke-linejoin="round" stroke-linecap="round"/>
<path d="M541.3 305.7 542.77 307.92 544.26 309.93 545.94 311.93 547.6 313.71 549.5 315.53 551.39 317.16 553.45 318.76 555.93 320.51 558.32 322.05 561.13 323.73 564.09 325.38 567.49 327.17 571.03 328.96 575 330.9 592.49 339.24 596.54 341.29 599.51 342.93 601.13 343.91 602.73 344.95 604.3 346.07 605.54 347.06 606.75 348.14 607.95 349.33 609.12 350.67 609.98 351.8 610.83 353.08 611.67 354.58 612.22 355.79 612.76 357.28 613.3 359.21 613.56 360.44 613.82 361.9 614.09 363.69 614.35 365.89 614.6 368.63 614.86 372.09 615.11 376.49 615.37 382.12 615.62 389.36 615.87 398.7 616.11 410.7" fill="none" stroke="#a8a8a8" stroke-width="1.45" stroke-linejoin="round" stroke-linecap="round"/>
<path d="M541.3 341.7 541.62 334.97 541.98 330.43 542.16 328.9 542.36 327.61 542.58 326.54 542.96 325.34 543.23 324.76 543.68 324.13 544.18 323.69 544.72 323.36 545.52 323 546.63 322.57 550.09 321.43 552.62 320.69 555.45 319.94 558.56 319.19 561.95 318.44 565.59 317.69 569.48 316.95 578.48 315.37 588.36 313.77 601.5 311.73 662.34 302.55 669.01 301.5 674.24 300.62 679.24 299.66 681.38 299.19 683.46 298.67 685.49 298.08 686.98 297.57 688.43 296.99 689.38 296.55 690.78 295.77 692.14 294.78 693.02 293.97 693.9 292.98 694.75 291.75 695.59 290.2 696 289.27 696.41 288.21 696.81 287.02 697.21 285.65 697.61 284.09 698 282.3 698.39 280.25 698.77 277.9 699.15 275.2 699.52 272.1 699.89 268.54 700.55 260.7" fill="none" stroke="#0c0c0c" stroke-width="1.45" stroke-linejoin="round" stroke-linecap="round"/>
<path d="M541.3 335.7 541.61 330.29 541.8 327.98 542.04 325.9 542.32 324.18 542.54 323.27 542.77 322.52 543.16 321.69 543.45 321.28 543.91 320.82 544.42 320.47 545.17 320.1 546.44 319.59 548.14 318.98 551.9 317.79 554.59 317.03 557.18 316.35 559.96 315.68 563.38 314.91 570.94 313.38 579.88 311.74 588.44 310.27 599.36 308.46 660.41 298.63 667.86 297.4 672.75 296.54 676.91 295.72 680.37 294.89 682.74 294.17 684.12 293.66 685.02 293.26 686.34 292.53 687.21 291.94 688.06 291.2 688.89 290.26 689.3 289.7 689.7 289.05 690.11 288.3 690.5 287.43 690.9 286.41 691.29 285.22 691.67 283.81 692.06 282.16 692.43 280.19 692.81 277.86 693.18 275.09 693.54 271.8 693.9 267.88 694.42 260.7" fill="none" stroke="#5a5a5a" stroke-width="1.45" stroke-linejoin="round" stroke-linecap="round"/>
<path d="M541.3 325.7 541.68 323.79 541.96 322.91 542.21 322.31 542.5 321.78 542.95 321.2 543.34 320.82 543.91 320.38 544.91 319.76 546.27 319.02 547.83 318.25 549.6 317.46 551.57 316.66 553.4 315.96 557.49 314.56 561.28 313.38 565.83 312.07 571.22 310.61 577.49 308.96 593.9 304.79 642.16 292.63 653.04 289.82 657.41 288.62 661.11 287.49 662.9 286.88 664.2 286.39 666.32 285.46 667.55 284.79 668.76 283.98 669.54 283.32 670.32 282.52 671.07 281.53 671.45 280.94 672.19 279.49 672.55 278.6 672.91 277.58 673.27 276.39 673.62 275.01 673.97 273.39 674.32 271.51 674.66 269.3 675 266.72 675.33 263.68 675.61 260.7" fill="none" stroke="#787878" stroke-width="1.45" stroke-linejoin="round" stroke-linecap="round"/>
<path d="M541.3 318.7 541.57 317.11 541.85 315.83 542.23 314.51 542.62 313.44 543.07 312.41 543.71 311.21 544.43 310.02 545.25 308.83 546.16 307.64 547.16 306.47 548.25 305.32 549.21 304.4 550.24 303.5 551.54 302.48 552.92 301.49 554.37 300.56 556.68 299.23 559.41 297.84 562.61 296.37 566.29 294.83 569.82 293.42 574.49 291.64 594.63 284.12 598.37 282.66 601.37 281.43 603.97 280.27 605.87 279.31 607.73 278.23 609.24 277.19 610.13 276.46 610.72 275.93 611.87 274.7 612.44 273.99 613 273.2 613.55 272.31 614.1 271.31 614.64 270.18 615.17 268.89 615.96 266.62 616.73 263.84 617.42 260.7" fill="none" stroke="#a8a8a8" stroke-width="1.45" stroke-linejoin="round" stroke-linecap="round"/>
<text x="547.9" y="355.5" class="b" textLength="27.8" lengthAdjust="spacingAndGlyphs">1M EC</text>
<rect x="548.5" y="360.5" width="48" height="47" fill="#fff" stroke="#383838" stroke-width="1.0"/>
<line x1="551.7" x2="569.7" y1="368" y2="368" stroke="#0c0c0c" stroke-width="1.4"/>
<text x="571.5" y="371.35" class="l">C/10</text>
<line x1="551.7" x2="569.7" y1="378.9" y2="378.9" stroke="#5a5a5a" stroke-width="1.4"/>
<text x="571.5" y="382.25" class="l">C/3</text>
<line x1="551.7" x2="569.7" y1="389.8" y2="389.8" stroke="#787878" stroke-width="1.4"/>
<text x="571.5" y="393.15" class="l">1C</text>
<line x1="551.7" x2="569.7" y1="400.7" y2="400.7" stroke="#a8a8a8" stroke-width="1.4"/>
<text x="571.5" y="404.05" class="l">2C</text>
<text x="0.5" y="11.7" class="h">(a)</text><text x="28.5" y="11.7" class="h">Gen2</text>
<text x="0.5" y="244.3" class="h">(b)</text><text x="28.8" y="244.3" class="h">EC</text>
</svg>
</body></html>
